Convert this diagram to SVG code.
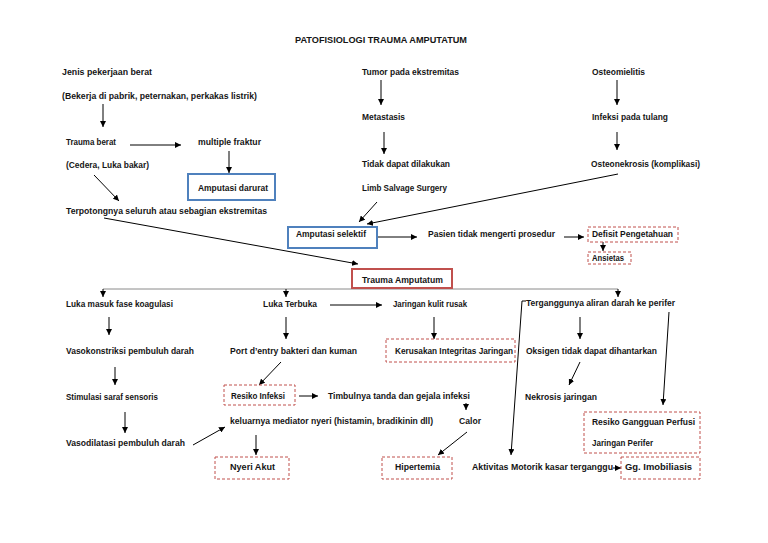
<svg xmlns="http://www.w3.org/2000/svg" width="768" height="543" viewBox="0 0 768 543">
<defs>
<marker id="ah" markerUnits="userSpaceOnUse" markerWidth="6" markerHeight="6" refX="6" refY="3" orient="auto">
<path d="M0,0 L6,3 L0,6 z" fill="#000"/>
</marker>
<style>
text{font-family:"Liberation Sans",Arial,sans-serif;font-size:9px;font-weight:bold;fill:#151515}
.t{font-size:8.6px}
.blue{fill:#fff;stroke:#4F81BD;stroke-width:2}
.red{fill:#fff;stroke:#C0504D;stroke-width:2}
.dash{fill:none;stroke:#C0504D;stroke-width:1;stroke-dasharray:3,2}
.c line,.c polyline{stroke:#000;stroke-width:1;fill:none}
.c .a{marker-end:url(#ah)}
.c .g{stroke:#8a8a8a}
</style>
</defs>
<rect width="768" height="543" fill="#fff"/>

<text class="t" x="295" y="43" textLength="172" lengthAdjust="spacingAndGlyphs">PATOFISIOLOGI TRAUMA AMPUTATUM</text>

<g class="c" id="connectors">
<line class="a" x1="103" y1="104" x2="103" y2="127"/>
<line class="a" x1="130" y1="145" x2="181" y2="145"/>
<line class="a" x1="229" y1="151" x2="229" y2="173"/>
<line class="a" x1="94" y1="175" x2="119" y2="201"/>
<line class="a" x1="104" y1="218" x2="358" y2="264"/>
<line class="a" x1="381" y1="80" x2="381" y2="105"/>
<line class="a" x1="384" y1="132" x2="384" y2="154"/>
<line class="a" x1="377" y1="202" x2="359" y2="222"/>
<line class="a" x1="618" y1="174" x2="367" y2="224"/>
<line class="a" x1="377" y1="237" x2="417" y2="237"/>
<line class="a" x1="564" y1="237" x2="584" y2="237"/>
<line class="a" x1="603" y1="242" x2="603" y2="251"/>
<line class="a" x1="617" y1="80" x2="617" y2="105"/>
<line class="a" x1="617" y1="132" x2="617" y2="150"/>
<line class="g" x1="103" y1="289" x2="618" y2="289"/>
<line class="a" x1="103" y1="289" x2="103" y2="297"/>
<line class="a" x1="286" y1="289" x2="286" y2="297"/>
<line class="a" x1="618" y1="289" x2="618" y2="297"/>
<line class="a" x1="109" y1="317" x2="109" y2="335"/>
<line class="a" x1="286" y1="317" x2="286" y2="339"/>
<line class="a" x1="330" y1="305" x2="382" y2="305"/>
<line class="a" x1="434" y1="317" x2="434" y2="339"/>
<line class="a" x1="580" y1="317" x2="580" y2="339"/>
<polyline class="a" points="526,301 522,301 511,455"/>
<line class="a" x1="669" y1="312" x2="663" y2="405"/>
<line class="a" x1="115" y1="367" x2="115" y2="385"/>
<line class="a" x1="281" y1="362" x2="259" y2="385"/>
<line class="a" x1="580" y1="362" x2="569" y2="385"/>
<line class="a" x1="299" y1="396" x2="318" y2="396"/>
<line class="a" x1="466" y1="403" x2="466" y2="410"/>
<line class="a" x1="125" y1="412" x2="125" y2="433"/>
<line class="a" x1="193" y1="445" x2="225" y2="427"/>
<line class="a" x1="256" y1="435" x2="256" y2="455"/>
<line class="a" x1="467" y1="432" x2="438" y2="455"/>
<line class="a" x1="613" y1="468" x2="621" y2="468"/>
</g>

<g id="n-jenis"><text x="62" y="75" textLength="90" lengthAdjust="spacingAndGlyphs">Jenis pekerjaan berat</text>
<text x="62" y="99" textLength="195" lengthAdjust="spacingAndGlyphs">(Bekerja di pabrik, peternakan, perkakas listrik)</text></g>
<g id="n-trauma-berat"><text x="66" y="145" textLength="50" lengthAdjust="spacingAndGlyphs">Trauma berat</text>
<text x="66" y="168" textLength="83" lengthAdjust="spacingAndGlyphs">(Cedera, Luka bakar)</text></g>
<g id="n-multiple"><text x="198" y="145" textLength="63" lengthAdjust="spacingAndGlyphs">multiple fraktur</text></g>
<g id="n-amp-darurat"><rect class="blue" x="188" y="174" width="87" height="26"/>
<text x="198" y="191" textLength="70" lengthAdjust="spacingAndGlyphs">Amputasi darurat</text></g>
<g id="n-terpotong"><text x="66" y="214" textLength="201" lengthAdjust="spacingAndGlyphs">Terpotongnya seluruh  atau sebagian ekstremitas</text></g>

<g id="n-tumor"><text x="362" y="75" textLength="97" lengthAdjust="spacingAndGlyphs">Tumor pada ekstremitas</text></g>
<g id="n-metastasis"><text x="362" y="120" textLength="43" lengthAdjust="spacingAndGlyphs">Metastasis</text></g>
<g id="n-tidak-dapat"><text x="362" y="167" textLength="88" lengthAdjust="spacingAndGlyphs">Tidak dapat dilakukan</text>
<text x="362" y="191" textLength="85" lengthAdjust="spacingAndGlyphs">Limb Salvage Surgery</text></g>
<g id="n-amp-selektif"><rect class="blue" x="288" y="227" width="89" height="21"/>
<text x="296" y="237" textLength="70" lengthAdjust="spacingAndGlyphs">Amputasi selektif</text></g>
<g id="n-pasien"><text x="428" y="237" textLength="127" lengthAdjust="spacingAndGlyphs">Pasien tidak mengerti prosedur</text></g>
<g id="n-defisit"><rect class="dash" x="588" y="227" width="90" height="15"/>
<text x="592" y="237" textLength="81" lengthAdjust="spacingAndGlyphs">Defisit Pengetahuan</text></g>
<g id="n-ansietas"><rect class="dash" x="588" y="252" width="43" height="12"/>
<text x="592" y="261" textLength="32" lengthAdjust="spacingAndGlyphs">Ansietas</text></g>

<g id="n-osteomielitis"><text x="592" y="75" textLength="53" lengthAdjust="spacingAndGlyphs">Osteomielitis</text></g>
<g id="n-infeksi-tulang"><text x="592" y="120" textLength="76" lengthAdjust="spacingAndGlyphs">Infeksi pada tulang</text></g>
<g id="n-osteonekrosis"><text x="591" y="167" textLength="109" lengthAdjust="spacingAndGlyphs">Osteonekrosis (komplikasi)</text></g>

<g id="n-trauma-amp"><rect class="red" x="352" y="269" width="100" height="19"/>
<text x="362" y="283" textLength="81" lengthAdjust="spacingAndGlyphs">Trauma Amputatum</text></g>

<g id="n-luka-masuk"><text x="66" y="307" textLength="107" lengthAdjust="spacingAndGlyphs">Luka masuk fase koagulasi</text></g>
<g id="n-luka-terbuka"><text x="263" y="307" textLength="54" lengthAdjust="spacingAndGlyphs">Luka Terbuka</text></g>
<g id="n-jaringan-kulit"><text x="393" y="307" textLength="74" lengthAdjust="spacingAndGlyphs">Jaringan kulit rusak</text></g>
<g id="n-terganggu"><text x="526" y="306" textLength="149" lengthAdjust="spacingAndGlyphs">Terganggunya aliran darah ke perifer</text></g>

<g id="n-vasokonstriksi"><text x="66" y="354" textLength="128" lengthAdjust="spacingAndGlyphs">Vasokonstriksi pembuluh darah</text></g>
<g id="n-port"><text x="230" y="354" textLength="127" lengthAdjust="spacingAndGlyphs">Port d’entry bakteri dan kuman</text></g>
<g id="n-kerusakan"><rect class="dash" x="386" y="339" width="129" height="23"/>
<text x="395" y="354" textLength="118" lengthAdjust="spacingAndGlyphs">Kerusakan Integritas Jaringan</text></g>
<g id="n-oksigen"><text x="526" y="354" textLength="131" lengthAdjust="spacingAndGlyphs">Oksigen tidak dapat dihantarkan</text></g>

<g id="n-stimulasi"><text x="66" y="400" textLength="92" lengthAdjust="spacingAndGlyphs">Stimulasi saraf sensoris</text></g>
<g id="n-resiko-infeksi"><rect class="dash" x="224" y="385" width="71" height="20"/>
<text x="231" y="399" textLength="54" lengthAdjust="spacingAndGlyphs">Resiko Infeksi</text></g>
<g id="n-timbulnya"><text x="328" y="399" textLength="142" lengthAdjust="spacingAndGlyphs">Timbulnya tanda dan gejala infeksi</text></g>
<g id="n-nekrosis"><text x="525" y="400" textLength="72" lengthAdjust="spacingAndGlyphs">Nekrosis jaringan</text></g>

<g id="n-keluarnya"><text x="230" y="424" textLength="203" lengthAdjust="spacingAndGlyphs">keluarnya mediator nyeri (histamin, bradikinin dll)</text></g>
<g id="n-calor"><text x="459" y="424" textLength="22" lengthAdjust="spacingAndGlyphs">Calor</text></g>
<g id="n-resiko-perfusi"><rect class="dash" x="584" y="412" width="116" height="41"/>
<text x="592" y="425" textLength="103" lengthAdjust="spacingAndGlyphs">Resiko Gangguan Perfusi</text>
<text x="592" y="446" textLength="61" lengthAdjust="spacingAndGlyphs">Jaringan Perifer</text></g>
<g id="n-vasodilatasi"><text x="66" y="446" textLength="119" lengthAdjust="spacingAndGlyphs">Vasodilatasi pembuluh darah</text></g>

<g id="n-nyeri"><rect class="dash" x="215" y="457" width="74" height="22"/>
<text x="230" y="470" textLength="45" lengthAdjust="spacingAndGlyphs">Nyeri  Akut</text></g>
<g id="n-hipertemia"><rect class="dash" x="382" y="457" width="70" height="22"/>
<text x="395" y="470" textLength="45" lengthAdjust="spacingAndGlyphs">Hipertemia</text></g>
<g id="n-aktivitas"><text x="472" y="470" textLength="141" lengthAdjust="spacingAndGlyphs">Aktivitas Motorik kasar terganggu</text></g>
<g id="n-imobiliasis"><rect class="dash" x="621" y="457" width="79" height="22"/>
<text x="625" y="470" textLength="67" lengthAdjust="spacingAndGlyphs">Gg. Imobiliasis</text></g>
</svg>
